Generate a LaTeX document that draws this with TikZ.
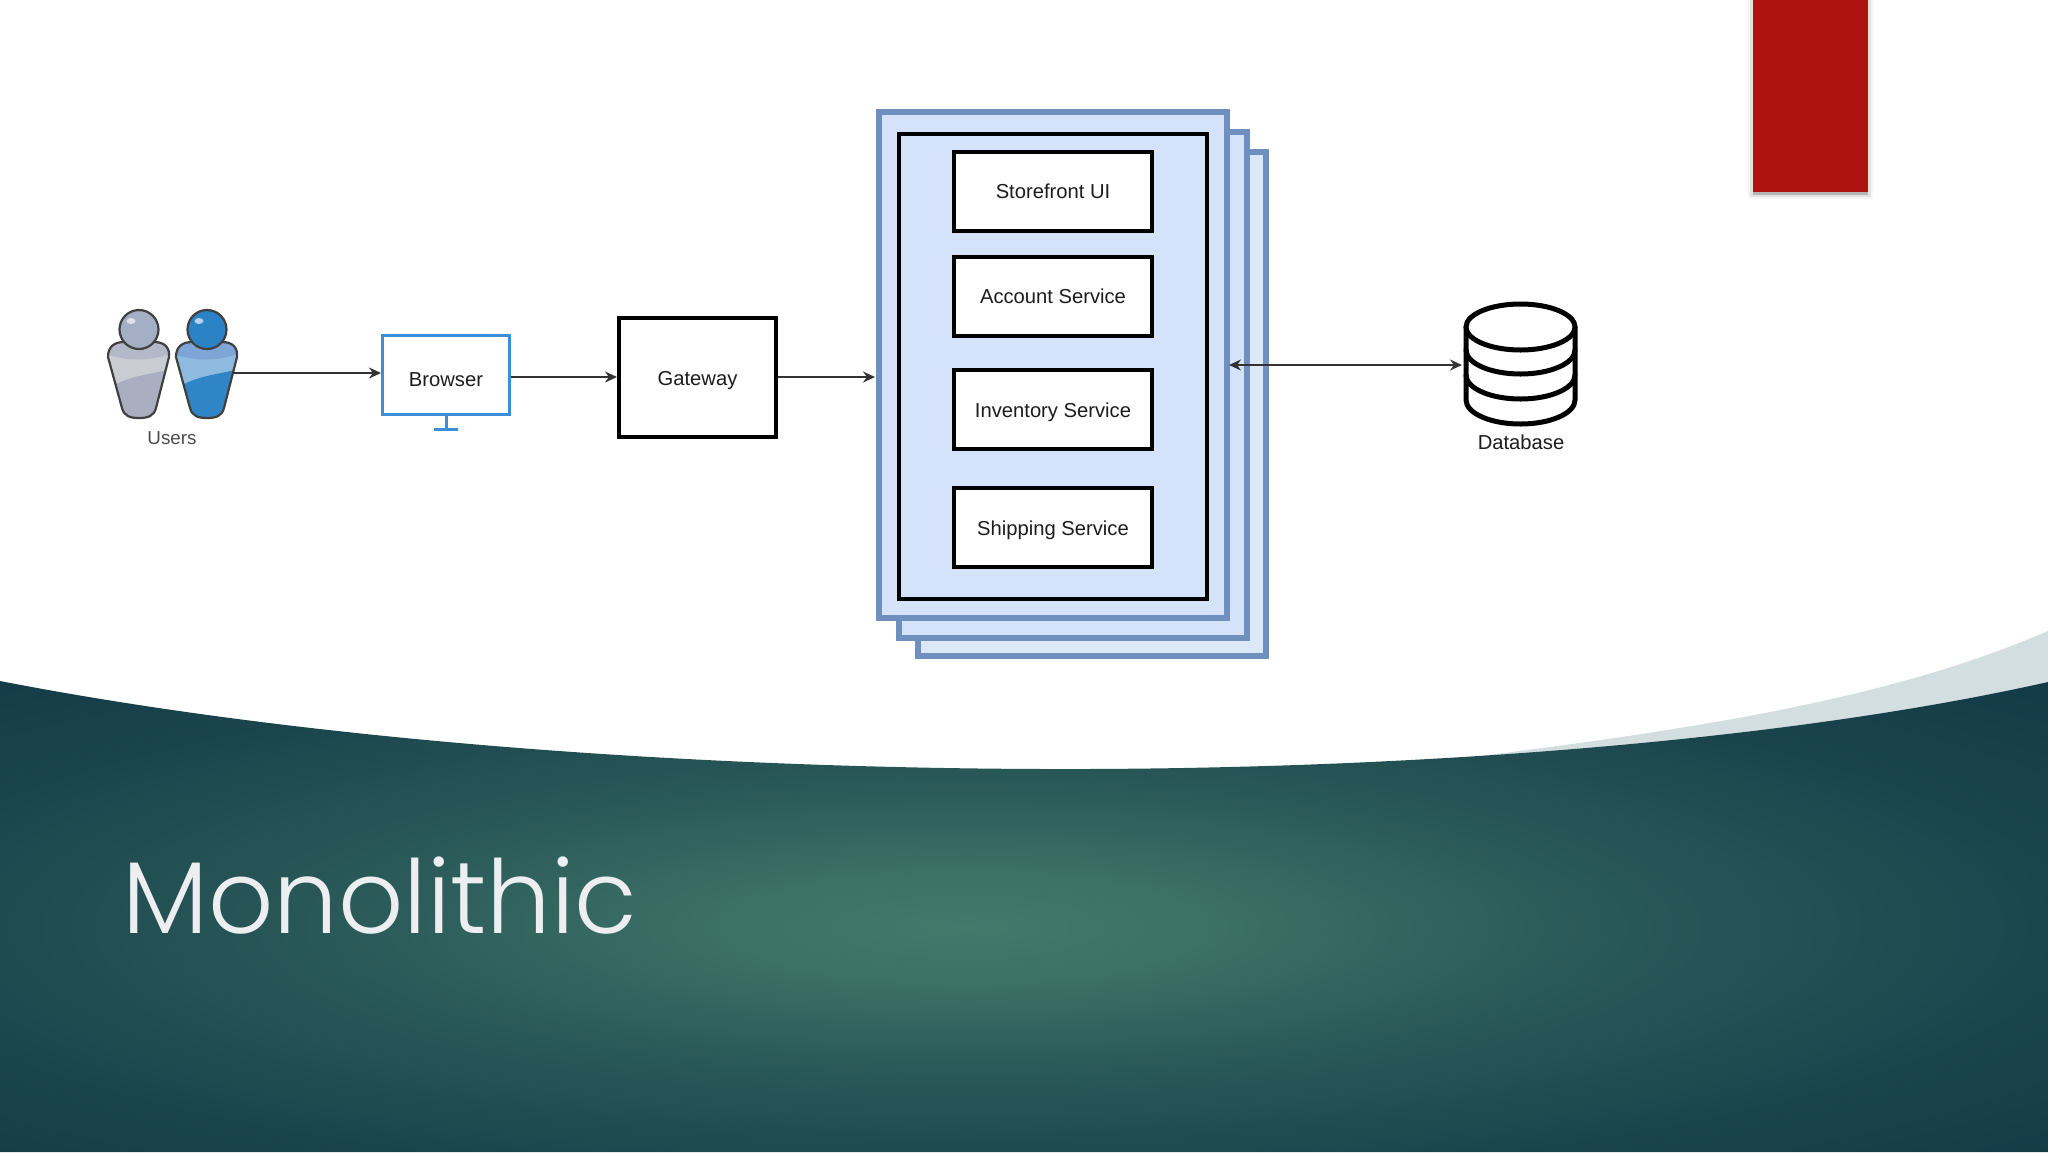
\documentclass[tikz,border=0pt]{standalone}
\usepackage{fontspec}
\usetikzlibrary{arrows.meta}
\setmainfont{Liberation Sans}
\newfontfamily\titlefont{Poppins Light}
\definecolor{stackedge}{HTML}{6F8FBE}
\definecolor{stackfill}{HTML}{D4E3FA}
\definecolor{stacklight}{HTML}{DCE8F6}
\definecolor{browserblue}{HTML}{3B8FD8}
\definecolor{inktext}{HTML}{1C1C1C}
\definecolor{deepteal}{HTML}{0F3544}
\definecolor{midteal}{HTML}{42796B}
\definecolor{paleband}{HTML}{D2DEDF}
\definecolor{slidered}{HTML}{AE1312}
\definecolor{titlecol}{HTML}{ECEEF1}
\definecolor{grayupper}{HTML}{C9CCD3}
\definecolor{graytop}{HTML}{B4B9C9}
\definecolor{graylow}{HTML}{A9AFC0}
\definecolor{grayhead}{HTML}{A4AEC4}
\definecolor{blueupper}{HTML}{8FBADF}
\definecolor{bluetop}{HTML}{7FA5D6}
\definecolor{bluelow}{HTML}{2F85C5}
\definecolor{bluehead}{HTML}{2B82C4}
\pgfdeclareradialshading{tealglow}{\pgfpoint{0bp}{0bp}}{
  color(0bp)=(midteal);
  color(3bp)=(midteal!88!deepteal);
  color(8bp)=(midteal!52!deepteal);
  color(14bp)=(midteal!22!deepteal);
  color(22bp)=(deepteal);
  color(50bp)=(deepteal)}
\newcommand{\personbody}{(108,357) .. controls (108,347) and (114,342) .. (124,342) -- (154,342) .. controls (164,342) and (170,347) .. (169,357) -- (156,408) .. controls (154,416) and (148,418) .. (139,418) .. controls (130,418) and (124,416) .. (122,408) -- cycle}
\newcommand{\personfigure}[5]{%
  \begin{scope}[xshift=#1]
  \fill[#2] \personbody;
  \begin{scope}
    \clip \personbody;
    \fill[#3] (100,335) -- (175,335) -- (175,352) .. controls (150,362) and (125,362) .. (100,352) -- cycle;
    \fill[#4] (100,394) .. controls (125,375) and (145,376) .. (175,368) -- (175,425) -- (100,425) -- cycle;
  \end{scope}
  \draw[black!75,line width=1.1pt] \personbody;
  \filldraw[fill=#5,draw=black!75,line width=1.1pt] (139,329.5) circle[radius=19.5];
  \fill[white,opacity=0.65] (131,321) ellipse[x radius=4.5,y radius=3];
  \end{scope}}
\tikzset{
  x=0.5pt,y=-0.5pt,
  lbl/.style={font=\fontsize{10.1pt}{12pt}\selectfont,text=inktext,inner sep=0pt},
  sheet/.style={draw=stackedge,line width=3.3pt},
  svcbox/.style={draw=black,line width=2pt,fill=white,minimum width=99pt,minimum height=39.5pt,inner sep=0pt,
    font=\fontsize{10.1pt}{12pt}\selectfont,text=inktext,text depth=0pt},
  flow/.style={draw=black!80,line width=0.9pt,-{Stealth[length=6pt,width=5.5pt]}},
  dblflow/.style={draw=black!80,line width=0.9pt,{Stealth[length=6pt,width=5.5pt]}-{Stealth[length=6pt,width=5.5pt]}},
  dbline/.style={draw=black,line width=2.5pt,line cap=round},
}
\begin{document}
\begin{tikzpicture}
\useasboundingbox (0,0) rectangle (2048,1152);
% background
\fill[white] (0,0) rectangle (2048,1152);
% pale band
\fill[paleband] (1480,756) .. controls (1720,726) and (1900,695) .. (2048,631) -- (2048,700) -- (1700,760) -- cycle;
% dark curved panel
\begin{scope}
\clip (0,681) .. controls (330,745) and (740,770) .. (1085,769) .. controls (1430,768) and (1790,740) .. (2048,682) -- (2048,1152) -- (0,1152) -- cycle;
\shade[shading=tealglow] (-1034,467) rectangle (2966,1387);
\end{scope}
% red tab with soft shadow
\fill[black,opacity=0.04] (1748,0) rectangle (1873,199);
\fill[black,opacity=0.07] (1750,0) rectangle (1871,197);
\fill[black,opacity=0.20] (1753,0) rectangle (1868,195);
\fill[slidered] (1753,0) rectangle (1868,192);
% stacked sheets
\filldraw[sheet,fill=stacklight] (918,152) rectangle (1266,656);
\filldraw[sheet,fill=stackfill] (899,132) rectangle (1247,638);
\filldraw[sheet,fill=stackfill] (879,112) rectangle (1227,618);
\node[draw=black,line width=2pt,fill=stackfill,minimum width=154pt,minimum height=232.5pt,inner sep=0pt] (inner) at (1053,366.5) {};
\node[svcbox,text height=7.2pt] (store) at (1053,191.5) {Storefront UI};
\node[svcbox,text height=7.8pt] (acct) at (1053,296) {Account Service};
\node[svcbox,text height=7.7pt] (inv) at (1053,409.5) {Inventory Service};
\node[svcbox,text height=7.7pt] (ship) at (1053,527.5) {Shipping Service};
% users
\personfigure{0pt}{grayupper}{graytop}{graylow}{grayhead}
\personfigure{34pt}{blueupper}{bluetop}{bluelow}{bluehead}
\coordinate (users) at (233,373);
\node[lbl,font=\fontsize{9.4pt}{11pt}\selectfont,text=black!70] (userslbl) at (172,438) {Users};
% browser
\node[draw=browserblue,line width=1.5pt,fill=white,minimum width=63.5pt,minimum height=39.5pt,inner sep=0pt,font=\fontsize{10.1pt}{12pt}\selectfont,text=inktext,text height=11.2pt,text depth=0pt] (browser) at (446,375) {Browser};
\draw[browserblue,line width=1.5pt] (browser.south) -- ++(0,13) coordinate (foot);
\draw[browserblue,line width=1.5pt] ([xshift=-6pt]foot) -- ([xshift=6pt]foot);
% gateway
\node[draw=black,line width=2pt,fill=white,minimum width=78.5pt,minimum height=59.5pt,inner sep=0pt,font=\fontsize{10.1pt}{12pt}\selectfont,text=inktext,text height=8.3pt,text depth=0pt] (gateway) at (697.5,377) {Gateway};
% database
\draw[dbline,fill=white] (1466,327) -- (1466,400) arc[x radius=54.5,y radius=24,start angle=180,end angle=0] -- (1575,327);
\draw[dbline] (1466,350) arc[x radius=54.5,y radius=24,start angle=180,end angle=0];
\draw[dbline] (1466,375) arc[x radius=54.5,y radius=24,start angle=180,end angle=0];
\draw[dbline,fill=white] (1520.5,327) ellipse[x radius=54.5,y radius=23];
\coordinate (db) at (1462,365);
\node[lbl] (dblbl) at (1521,442) {Database};
% connectors
\draw[flow] (users) -- (browser.west |- users);
\draw[flow] (browser.east |- gateway.west) -- (gateway.west);
\draw[flow] (gateway.east) -- (875,377);
\draw[dblflow] (1229,365) -- (db);
% title
\node[anchor=base west,inner sep=0pt,text=titlecol,font=\titlefont\fontsize{51pt}{60pt}\selectfont] (title) at (122,933) {Monolithic};
\end{tikzpicture}
\end{document}
